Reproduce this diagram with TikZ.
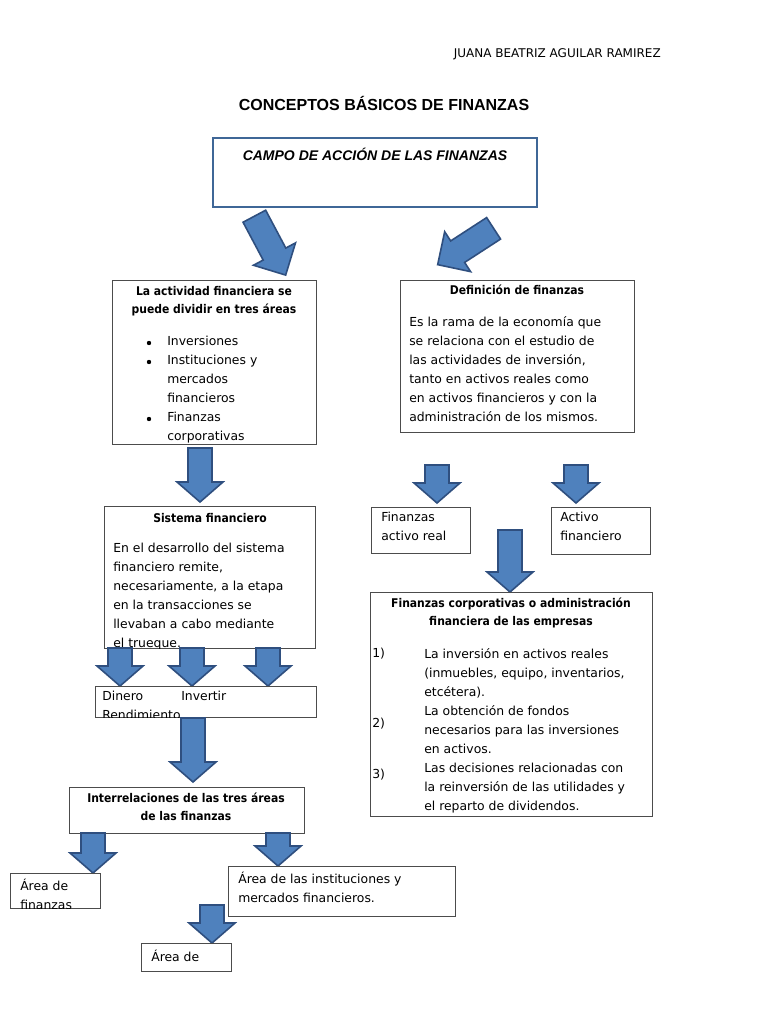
\documentclass[tikz,border=0pt]{standalone}
\usepackage{fontspec}
\setmainfont{DejaVu Sans}
\newfontfamily\cond{DejaVu Sans Condensed}
\newfontfamily\arial{Liberation Sans}
\usetikzlibrary{shapes.arrows}
\definecolor{af}{HTML}{4F81BD}
\definecolor{ab}{HTML}{2F4F7F}
\newcommand\dnarrow[3]{\draw[arr] ({#1-12},#2) -- ({#1+12},#2) -- ({#1+12},{#3-20}) -- ({#1+23},{#3-20}) -- (#1,#3) -- ({#1-23},{#3-20}) -- ({#1-12},{#3-20}) -- cycle;}
\begin{document}
\begin{tikzpicture}[x=0.75pt,y=-0.75pt,
  box/.style={draw=black!70,line width=0.6pt},
  arr/.style={fill=af,draw=ab,line width=1.2pt,line join=miter},
  txt/.style={anchor=north west,inner sep=0pt,align=left,font=\fontsize{9.3}{14.25}\selectfont},
  ttl/.style={anchor=north,inner sep=0pt,align=center,font=\cond\bfseries\fontsize{9}{13.5}\selectfont},
  sarr/.style={single arrow,fill=af,draw=ab,line width=1.2pt,inner sep=9pt,single arrow head extend=8.25pt,minimum height=50pt}]
\useasboundingbox (0,0) rectangle (768,1024);
\fill[white] (0,0) rectangle (768,1024);
\node[anchor=east,inner sep=0,font=\fontsize{9}{11}\selectfont] (hdr) at (661,54) {JUANA BEATRIZ AGUILAR RAMIREZ};
\node[inner sep=0,font=\arial\bfseries\fontsize{12}{14}\selectfont] (title) at (384,103) {CONCEPTOS BÁSICOS DE FINANZAS};
% top box
\draw[box,draw=af!80!black,line width=1.2pt] (213,138) rectangle (537,207);
\node[inner sep=0,font=\arial\bfseries\itshape\fontsize{10.5}{12}\selectfont] (campo) at (375,154) {CAMPO DE ACCIÓN DE LAS FINANZAS};
\node[sarr,rotate=-62] (a1) at (267,240) {};
\node[sarr,rotate=-147] (a2) at (471,243) {};
% left box
\draw[box] (112,280) rectangle (316,444);
\node[ttl] (t1) at (214,286) {La actividad financiera se\\puede dividir en tres áreas};
\begin{scope}
\clip (112,280) rectangle (316,444);
\node[txt] (l1) at (167,336) {Inversiones\\Instituciones y\\mercados\\financieros\\Finanzas\\corporativas};
\foreach \y in {343,362,419} \fill (149,\y) circle (2.2);
\end{scope}
% definition box
\draw[box] (400,280) rectangle (634,432);
\node[ttl] (t2) at (517,285) {Definición de finanzas};
\node[txt] (d1) at (409,316) {Es la rama de la economía que\\se relaciona con el estudio de\\las actividades de inversión,\\tanto en activos reales como\\en activos financieros y con la\\administración de los mismos.};
\dnarrow{200}{448}{502}
\dnarrow{437}{465}{503}
\dnarrow{576}{465}{503}
\draw[box] (371,507) rectangle (470,553);
\node[txt] (far) at (381,512) {Finanzas\\activo real};
\draw[box] (551,507) rectangle (650,554);
\node[txt] (af) at (560,512) {Activo\\financiero};
% sistema
\draw[box] (104,506) rectangle (315,648);
\node[ttl] (t3) at (210,513) {Sistema financiero};
\begin{scope}
\clip (104,506) rectangle (315,648);
\node[txt] (s1) at (113,543) {En el desarrollo del sistema\\financiero remite,\\necesariamente, a la etapa\\en la transacciones se\\llevaban a cabo mediante\\el trueque.};
\end{scope}
\dnarrow{510}{530}{592}
% corporativas
\draw[box] (370,592) rectangle (652,816);
\node[ttl] (t4) at (511,598) {Finanzas corporativas o administración\\financiera de las empresas};
\node[txt] (c1) at (372,648) {1)\\[38pt]2)\\[24pt]3)};
\node[txt] (c2) at (424,648) {La inversión en activos reales\\(inmuebles, equipo, inventarios,\\etcétera).\\La obtención de fondos\\necesarios para las inversiones\\en activos.\\Las decisiones relacionadas con\\la reinversión de las utilidades y\\el reparto de dividendos.};
\dnarrow{120}{648}{686}
\dnarrow{192}{648}{686}
\dnarrow{268}{648}{686}
\draw[box] (95,686) rectangle (316,717);
\begin{scope}
\clip (95,686) rectangle (316,717);
\node[txt] (di) at (102,691) {Dinero\\Rendimiento};
\node[txt] (inv) at (181,691) {Invertir};
\end{scope}
\dnarrow{193}{718}{782}
\draw[box] (69,787) rectangle (304,833);
\node[ttl] (t5) at (186,793) {Interrelaciones de las tres áreas\\de las finanzas};
\dnarrow{93}{833}{873}
\dnarrow{278}{833}{866}
\draw[box] (10,873) rectangle (100,908);
\begin{scope}
\clip (10,873) rectangle (100,908);
\node[txt] (af1) at (20,879) {Área de\\finanzas};
\end{scope}
\draw[box] (228,866) rectangle (455,916);
\node[txt] (ai) at (238,872) {Área de las instituciones y\\mercados financieros.};
\dnarrow{212}{905}{943}
\draw[box] (141,943) rectangle (231,971);
\node[txt] (ad) at (151,950) {Área de};
\end{tikzpicture}
\end{document}
